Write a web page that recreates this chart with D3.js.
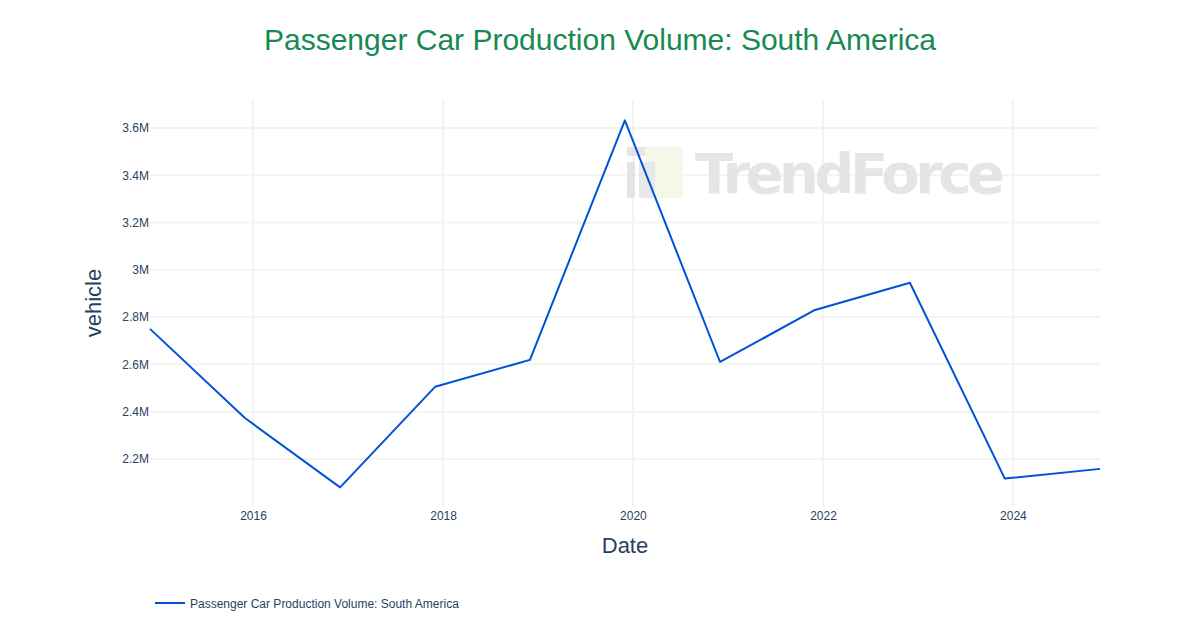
<!DOCTYPE html>
<html>
<head>
<meta charset="utf-8">
<script src="https://cdn.jsdelivr.net/npm/d3@7"></script>
<style>
  body { margin: 0; background: #fff; }
  svg { font-family: "Liberation Sans", Arial, sans-serif; }
</style>
</head>
<body>
<svg id="line-chart"></svg>
<script>
/* data */
var dates = ["2014-12-01", "2015-12-01", "2016-12-01", "2017-12-01", "2018-12-01",
             "2019-12-01", "2020-12-01", "2021-12-01", "2022-12-01", "2023-12-01", "2024-12-01"];
var volumes = [2750000, 2373000, 2080000, 2505000, 2619000,
               3632000, 2610000, 2830000, 2945000, 2117000, 2158000];
var yTicks = [2200000, 2400000, 2600000, 2800000, 3000000, 3200000, 3400000, 3600000];
var xTickYears = [2016, 2018, 2020, 2022, 2024];
var seriesName = "Passenger Car Production Volume: South America";

var width = 1200, height = 630,
    margin = { top: 100, bottom: 124, left: 150, right: 100 },
    innerWidth = width - margin.left - margin.right,
    innerHeight = height - margin.top - margin.bottom,
    textColor = "#2a3f5f",
    gridColor = "#f3f3f3",
    lineColor = "#0052d9";

var parseTime = d3.timeParse("%Y-%m-%d");
var data = dates.map(function(d, i) { return { date: parseTime(d), value: volumes[i] }; });

var svg = d3.select("#line-chart")
    .attr("width", width)
    .attr("height", height);

var xScale = d3.scaleTime()
    .domain(d3.extent(data, function(d) { return d.date; }))
    .range([0, innerWidth]);

var yScale = d3.scaleLinear()
    .domain([2001000, 3718000])
    .range([innerHeight, 0]);

/* title */
svg.append("text")
    .attr("x", width / 2)
    .attr("y", 50)
    .attr("text-anchor", "middle")
    .attr("fill", "#168a4f")
    .style("font-size", "30px")
    .text(seriesName);

var g = svg.append("g")
    .attr("id", "lines")
    .attr("transform", "translate(" + margin.left + "," + margin.top + ")");

/* grid */
g.append("g").selectAll("line.v")
    .data(xTickYears)
  .enter().append("line")
    .attr("x1", function(d) { return xScale(new Date(d, 0, 1)); })
    .attr("x2", function(d) { return xScale(new Date(d, 0, 1)); })
    .attr("y1", 0).attr("y2", innerHeight)
    .attr("stroke", gridColor).attr("stroke-width", 2);

g.append("g").selectAll("line.h")
    .data(yTicks)
  .enter().append("line")
    .attr("x1", 0).attr("x2", innerWidth)
    .attr("y1", function(d) { return yScale(d); })
    .attr("y2", function(d) { return yScale(d); })
    .attr("stroke", gridColor).attr("stroke-width", 2);

/* watermark */
var wm = g.append("g").attr("opacity", 0.9);
wm.append("rect").attr("x", 477).attr("y", 47).attr("width", 32).attr("height", 9).attr("fill", "#e3e3e3");
wm.append("rect").attr("x", 477).attr("y", 62).attr("width", 8).attr("height", 36).attr("fill", "#e3e3e3");
wm.append("rect").attr("x", 495).attr("y", 47).attr("width", 38).attr("height", 51).attr("rx", 3).attr("fill", "#f3f8e6");
wm.append("rect").attr("x", 489).attr("y", 62).attr("width", 16).attr("height", 36).attr("fill", "#e6e6e6");
wm.append("text")
    .attr("x", 545).attr("y", 93)
    .attr("fill", "#e3e3e3")
    .style("font-size", "56px")
    .style("font-weight", "bold")
    .style("font-family", "'DejaVu Sans', sans-serif")
    .attr("textLength", 310)
    .text("TrendForce");

/* axes */
var xAxis = d3.axisBottom(xScale)
    .tickValues(xTickYears.map(function(y) { return new Date(y, 0, 1); }))
    .tickFormat(d3.timeFormat("%Y"))
    .tickSize(0).tickPadding(5);

var xAxisG = g.append("g")
    .attr("class", "x-axis-line")
    .attr("transform", "translate(0," + innerHeight + ")")
    .call(xAxis);

var yAxis = d3.axisLeft(yScale)
    .tickValues(yTicks)
    .tickFormat(function(d) { return d3.format("~s")(d); })
    .tickSize(0).tickPadding(1);

var yAxisG = g.append("g")
    .attr("class", "y-axis-line")
    .call(yAxis);

[xAxisG, yAxisG].forEach(function(a) {
    a.select(".domain").remove();
    a.selectAll("text")
        .attr("fill", textColor)
        .style("font-size", "12px")
        .style("font-family", "'Liberation Sans', Arial, sans-serif");
});

/* axis titles */
svg.append("text")
    .attr("x", margin.left + innerWidth / 2)
    .attr("y", 553)
    .attr("text-anchor", "middle")
    .attr("fill", textColor)
    .style("font-size", "22px")
    .text("Date");

svg.append("text")
    .attr("transform", "translate(101," + (margin.top + innerHeight / 2) + ") rotate(-90)")
    .attr("text-anchor", "middle")
    .attr("fill", textColor)
    .style("font-size", "22px")
    .text("vehicle");

/* line */
var line = d3.line()
    .x(function(d) { return xScale(d.date); })
    .y(function(d) { return yScale(d.value); });

g.append("path")
    .datum(data)
    .attr("class", "chartline")
    .attr("fill", "none")
    .attr("stroke", lineColor)
    .attr("stroke-width", 2)
    .attr("stroke-linejoin", "round")
    .attr("d", line);

/* legend */
var legend = svg.append("g").attr("transform", "translate(155,603)");
legend.append("line")
    .attr("x1", 0).attr("x2", 30)
    .attr("stroke", lineColor).attr("stroke-width", 2);
legend.append("text")
    .attr("x", 35).attr("y", 5)
    .attr("fill", textColor)
    .style("font-size", "12px")
    .text(seriesName);
</script>
</body>
</html>
